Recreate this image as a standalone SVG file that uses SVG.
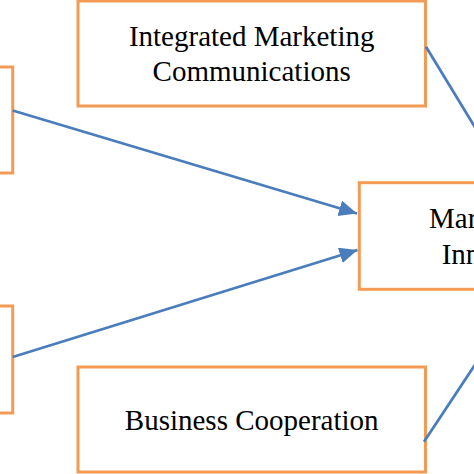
<svg xmlns="http://www.w3.org/2000/svg" width="474" height="474" viewBox="0 0 474 474">
<style>
.box{fill:#ffffff;stroke:#f39b55;stroke-width:3}
.lbl{font-family:"Liberation Serif","Times New Roman",serif;font-size:29px;fill:#000000}
.con{fill:none;stroke:#4a7dbb;stroke-width:2.8}
</style>
<defs>
<marker id="ah" markerUnits="userSpaceOnUse" markerWidth="20" markerHeight="18" refX="18" refY="8" orient="auto">
<path d="M0,0 L18,8 L0,16 z" fill="#4a7dbb"/>
</marker>
</defs>
<rect width="474" height="474" fill="#ffffff"/>
<g id="node-imc">
<rect class="box" x="78" y="1" width="347.5" height="105"/>
<text class="lbl" x="251.7" y="45.7" text-anchor="middle">Integrated Marketing</text>
<text class="lbl" x="251.7" y="81" text-anchor="middle">Communications</text>
</g>
<g id="node-left-top">
<rect class="box" x="-100" y="67" width="112.7" height="106"/>
</g>
<g id="node-left-bottom">
<rect class="box" x="-100" y="306" width="112.7" height="107"/>
</g>
<g id="node-bc">
<rect class="box" x="78" y="367" width="347.5" height="105"/>
<text class="lbl" x="251.7" y="430.3" text-anchor="middle">Business Cooperation</text>
</g>
<g id="node-mi">
<rect class="box" x="359.3" y="182.7" width="200" height="106.6"/>
<text class="lbl" x="429" y="228">Marketing</text>
<text class="lbl" x="441.7" y="264">Innovation</text>
</g>
<g id="connectors">
<line class="con" x1="12.7" y1="110.5" x2="357" y2="213.5" marker-end="url(#ah)"/>
<line class="con" x1="12.7" y1="357" x2="357.5" y2="250" marker-end="url(#ah)"/>
<line class="con" x1="426" y1="46.7" x2="490" y2="152"/>
<line class="con" x1="424" y1="441.7" x2="490" y2="342"/>
</g>
</svg>
